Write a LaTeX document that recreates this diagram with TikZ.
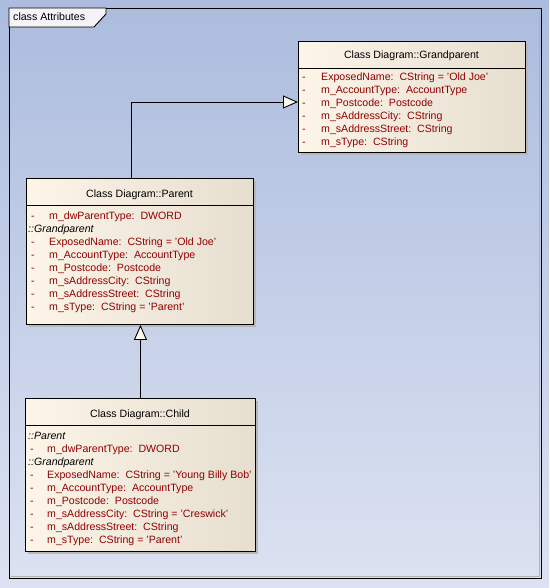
\documentclass[tikz,border=0pt]{standalone}
\usepackage{fontspec}
\setmainfont{Liberation Sans}
\usetikzlibrary{arrows.meta,shadows}
\definecolor{bgtop}{RGB}{172,188,222}
\definecolor{bgbot}{RGB}{220,226,241}
\definecolor{boxL}{RGB}{252,245,232}
\definecolor{boxR}{RGB}{230,222,207}
\definecolor{attr}{RGB}{145,0,0}
\definecolor{tabfill}{RGB}{245,243,247}
\definecolor{shadowgray}{RGB}{184,184,186}
\definecolor{headfill}{RGB}{252,248,236}
\tikzset{
  classbox/.style={draw=black, line width=0.9pt, left color=boxL, right color=boxR,
    minimum width=#1, inner sep=0pt, anchor=north west,
    drop shadow={shadow xshift=3pt, shadow yshift=-3pt, fill=shadowgray, opacity=1}},
  txt/.style={font=\fontsize{10.6}{12}\selectfont, inner sep=0pt},
  title/.style={txt, text=black, anchor=base},
  dashmark/.style={txt, text=attr, anchor=base west},
  attrtext/.style={txt, text=attr, anchor=base west},
  inhtext/.style={txt, font=\fontsize{10.6}{12}\selectfont\itshape, text=black, anchor=base west},
  sep/.style={draw=black, line width=0.9pt},
  inh/.style={draw=black, line width=0.9pt, -{Triangle[length=15pt,width=13pt,fill=headfill,line width=0.9pt]}},
}
\begin{document}
\begin{tikzpicture}[x=1pt,y=-1pt]
\useasboundingbox (0,0) rectangle (549,588);
\shade[top color=bgtop, bottom color=bgbot] (0,0) rectangle (549,588);
% frame
\draw[draw=black!30, line width=0.7pt] (539.6,10) -- (539.6,576.6) -- (11,576.6);
\draw[black, line width=0.9pt] (9,8) rectangle (541,578);
\draw[black, line width=0.9pt, fill=tabfill] (9,8) -- (106,8) -- (106,14) -- (94,27) -- (9,27) -- cycle;
\node[txt, anchor=base west] (frametitle) at (13,21) {class Attributes};

% Grandparent
\node[classbox=227pt, minimum height=111pt] (gp) at (298,41) {};
\draw[sep] (298,68) -- (525,68);
\node[title] (gpt) at (411.5,59) {Class Diagram::Grandparent};
\foreach \y/\t [count=\i] in {81/{ExposedName:\ \ CString = 'Old Joe'},
  94/{m\_AccountType:\ \ AccountType},
  107/{m\_Postcode:\ \ Postcode},
  120/{m\_sAddressCity:\ \ CString},
  133/{m\_sAddressStreet:\ \ CString},
  146/{m\_sType:\ \ CString}}{
  \node[dashmark] (gpd\i) at (302,\y) {-};
  \node[attrtext] (gpa\i) at (321,\y) {\t};
}

% Parent
\node[classbox=227pt, minimum height=146pt] (par) at (26,178) {};
\draw[sep] (26,205) -- (253,205);
\node[title] (part) at (139.5,197) {Class Diagram::Parent};
\node[dashmark] (pd1) at (31,219) {-};
\node[attrtext] (pa1) at (49,219) {m\_dwParentType:\ \ DWORD};
\node[inhtext] (pi1) at (28,232) {::Grandparent};
\foreach \y/\t [count=\i] in {245/{ExposedName:\ \ CString = 'Old Joe'},
  258/{m\_AccountType:\ \ AccountType},
  271/{m\_Postcode:\ \ Postcode},
  284/{m\_sAddressCity:\ \ CString},
  297/{m\_sAddressStreet:\ \ CString},
  310/{m\_sType:\ \ CString = 'Parent'}}{
  \node[dashmark] (pgd\i) at (31,\y) {-};
  \node[attrtext] (pga\i) at (49,\y) {\t};
}

% Child
\node[classbox=230pt, minimum height=153pt] (ch) at (25,398) {};
\draw[sep] (25,425) -- (255,425);
\node[title] (cht) at (140,417) {Class Diagram::Child};
\node[inhtext] (ci1) at (28,439) {::Parent};
\node[dashmark] (cd1) at (30,452) {-};
\node[attrtext] (ca1) at (47,452) {m\_dwParentType:\ \ DWORD};
\node[inhtext] (ci2) at (28,465) {::Grandparent};
\foreach \y/\t [count=\i] in {478/{ExposedName:\ \ CString = 'Young Billy Bob'},
  491/{m\_AccountType:\ \ AccountType},
  504/{m\_Postcode:\ \ Postcode},
  517/{m\_sAddressCity:\ \ CString = 'Creswick'},
  530/{m\_sAddressStreet:\ \ CString},
  543/{m\_sType:\ \ CString = 'Parent'}}{
  \node[dashmark] (cgd\i) at (30,\y) {-};
  \node[attrtext] (cga\i) at (47,\y) {\t};
}

% connectors
\coordinate (p1) at (131,178);
\coordinate (g1) at (298,102);
\draw[inh] (p1) |- (g1);
\draw[inh] (ch.north) -- (ch.north |- par.south);
\end{tikzpicture}
\end{document}
